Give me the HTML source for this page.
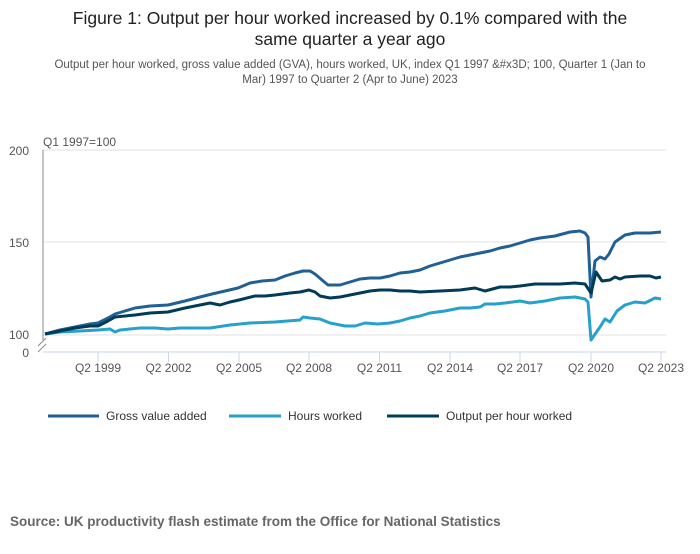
<!DOCTYPE html>
<html><head><meta charset="utf-8"><style>
body{margin:0;width:700px;height:549px;background:#fff;font-family:"Liberation Sans",sans-serif;overflow:hidden}
</style></head><body>
<svg width="700" height="549" xmlns="http://www.w3.org/2000/svg" font-family="Liberation Sans, sans-serif">
<text x="350" y="24" text-anchor="middle" font-size="17.5" fill="#222">Figure 1: Output per hour worked increased by 0.1% compared with the</text>
<text x="350" y="45" text-anchor="middle" font-size="17.5" fill="#222">same quarter a year ago</text>
<text x="350" y="68" text-anchor="middle" font-size="11.5" fill="#555">Output per hour worked, gross value added (GVA), hours worked, UK, index Q1 1997 &amp;#x3D; 100, Quarter 1 (Jan to</text>
<text x="350" y="83" text-anchor="middle" font-size="11.5" fill="#555">Mar) 1997 to Quarter 2 (Apr to June) 2023</text>
<text x="43" y="146" font-size="12" fill="#555">Q1 1997=100</text>
<g stroke="#e0e0e0" stroke-width="1">
<line x1="43" y1="150" x2="666" y2="150"/><line x1="43" y1="242" x2="666" y2="242"/><line x1="43" y1="335" x2="666" y2="335"/>
</g>
<line x1="43" y1="150" x2="43" y2="340" stroke="#888"/>
<line x1="38" y1="346" x2="46" y2="338" stroke="#888"/>
<line x1="38" y1="352" x2="46" y2="344" stroke="#888"/>
<line x1="43" y1="352" x2="666" y2="352" stroke="#ccd6eb"/>
<g stroke="#ccd6eb"><line x1="98" y1="352" x2="98" y2="362"/><line x1="168.5" y1="352" x2="168.5" y2="362"/><line x1="239" y1="352" x2="239" y2="362"/><line x1="309" y1="352" x2="309" y2="362"/><line x1="379.5" y1="352" x2="379.5" y2="362"/><line x1="450" y1="352" x2="450" y2="362"/><line x1="520" y1="352" x2="520" y2="362"/><line x1="591" y1="352" x2="591" y2="362"/><line x1="661" y1="352" x2="661" y2="362"/></g>
<g font-size="12" fill="#555" text-anchor="end"><text x="29" y="155">200</text><text x="29" y="247">150</text><text x="29" y="339">100</text><text x="29" y="357">0</text></g>
<g font-size="12" fill="#555" text-anchor="middle"><text x="98" y="372">Q2 1999</text><text x="168.5" y="372">Q2 2002</text><text x="239" y="372">Q2 2005</text><text x="309" y="372">Q2 2008</text><text x="379.5" y="372">Q2 2011</text><text x="450" y="372">Q2 2014</text><text x="520" y="372">Q2 2017</text><text x="591" y="372">Q2 2020</text><text x="661" y="372">Q2 2023</text></g>
<g fill="none" stroke-width="3" stroke-linejoin="round">
<polyline stroke="#206095" points="45,334 60,330 75,327 90,324 98,323 108,318 115,314 125,311 135,308 150,306 168,305 185,301 200,297 212,294 225,291 238,288 250,283 262,281 275,280 285,276 295,273 303,271 310,271 315,274 322,280 328,285 340,285 350,282 360,279 370,278 380,278 390,276 400,273 410,272 420,270 430,266 440,263 450,260 460,257 470,255 480,253 490,251 500,248 510,246 520,243 530,240 540,238 555,236 570,232 580,231 585,233 588,237 591,297 595,261 600,257 605,259 609,254 615,242 625,235 635,233 650,233 661,232"/>
<polyline stroke="#27a0cc" points="45,334 60,332 80,331 98,330 110,329 115,332 120,330 140,328 155,328 168,329 180,328 210,328 230,325 250,323 275,322 300,320 303,317 310,318 320,319 330,323 345,326 355,326 365,323 378,324 390,323 400,321 410,318 420,316 430,313 445,311 460,308 470,308 480,307 485,304 495,304 505,303 520,301 530,303 545,301 560,298 575,297 585,299 588,302 591,340 600,327 605,319 610,322 617,311 625,305 635,302 645,303 655,298 661,299"/>
<polyline stroke="#003c57" points="45,334 60,331 75,328 90,326 98,326 108,321 115,317 125,316 135,315 150,313 168,312 185,308 200,305 210,303 220,305 230,302 239,300 255,296 265,296 275,295 290,293 300,292 309,290 315,292 320,296 330,298 340,297 350,295 360,293 370,291 380,290 390,290 400,291 410,291 420,292 440,291 460,290 475,288 485,291 500,287 510,287 520,286 535,284 545,284 560,284 575,283 585,284 591,293 596,272 602,281 610,280 615,277 620,279 625,277 640,276 650,276 656,278 661,277"/>
</g>
<g stroke-width="3"><line x1="48" y1="416" x2="99" y2="416" stroke="#206095"/><line x1="229" y1="416" x2="281" y2="416" stroke="#27a0cc"/><line x1="387" y1="416" x2="439" y2="416" stroke="#003c57"/></g>
<g font-size="12" fill="#333"><text x="106" y="420">Gross value added</text><text x="288" y="420">Hours worked</text><text x="446" y="420">Output per hour worked</text></g>
<text x="10" y="526" font-size="13.5" font-weight="bold" fill="#666">Source: UK productivity flash estimate from the Office for National Statistics</text>
</svg>
</body></html>
